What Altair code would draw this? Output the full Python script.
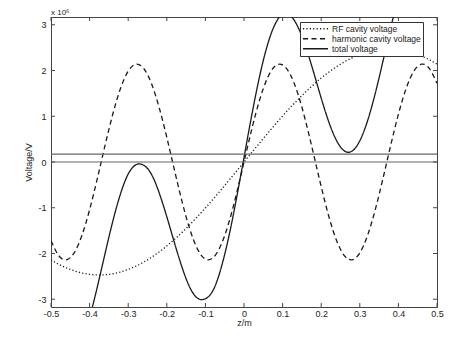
import altair as alt
import pandas as pd

z = [-0.50, -0.48, -0.46, -0.44, -0.42, -0.40, -0.38, -0.36, -0.34, -0.32,
     -0.30, -0.28, -0.26, -0.24, -0.22, -0.20, -0.18, -0.16, -0.14, -0.12,
     -0.10, -0.08, -0.06, -0.04, -0.02, 0.00, 0.02, 0.04, 0.06, 0.08,
     0.10, 0.12, 0.14, 0.16, 0.18, 0.20, 0.22, 0.24, 0.26, 0.28,
     0.30, 0.32, 0.34, 0.36, 0.38, 0.40, 0.42, 0.44, 0.46, 0.48, 0.50]

rf = [-2.139, -2.235, -2.315, -2.379, -2.426, -2.456, -2.469, -2.465, -2.443, -2.405,
      -2.349, -2.277, -2.189, -2.085, -1.967, -1.836, -1.691, -1.534, -1.367, -1.190,
      -1.005, -0.812, -0.614, -0.412, -0.207, 0.000, 0.207, 0.412, 0.614, 0.812,
      1.005, 1.190, 1.367, 1.534, 1.691, 1.836, 1.967, 2.085, 2.189, 2.277,
      2.349, 2.405, 2.443, 2.465, 2.469, 2.456, 2.426, 2.379, 2.315, 2.235, 2.139]

harm = [-1.720, -2.046, -2.138, -1.986, -1.607, -1.044, -0.362, 0.362, 1.044, 1.607,
        1.986, 2.138, 2.046, 1.720, 1.198, 0.539, -0.181, -0.881, -1.481, -1.911,
        -2.123, -2.092, -1.822, -1.345, -0.713, 0.000, 0.713, 1.345, 1.822, 2.092,
        2.123, 1.911, 1.481, 0.881, 0.181, -0.539, -1.198, -1.720, -2.046, -2.138,
        -1.986, -1.607, -1.044, -0.362, 0.362, 1.044, 1.607, 1.986, 2.138, 2.046, 1.720]

total = [-3.759, -4.181, -4.353, -4.265, -3.933, -3.400, -2.731, -2.003, -1.299, -0.698,
         -0.263, -0.060, -0.070, -0.265, -0.669, -1.197, -1.772, -2.315, -2.748, -2.980,
         -2.990, -2.804, -2.336, -1.657, -0.820, 0.100, 1.020, 1.857, 2.536, 3.004,
         3.228, 3.201, 2.948, 2.515, 1.972, 1.397, 0.869, 0.465, 0.243, 0.239,
         0.463, 0.898, 1.499, 2.203, 2.931, 3.600, 4.133, 4.465, 4.553, 4.381, 3.959]

series_names = ["RF cavity voltage", "harmonic cavity voltage", "total voltage"]
hlines = [0.0, 0.17]
x_ticks = [-0.5, -0.4, -0.3, -0.2, -0.1, 0, 0.1, 0.2, 0.3, 0.4, 0.5]
y_ticks = [-3, -2, -1, 0, 1, 2, 3]

rows = []
for name, vals in zip(series_names, [rf, harm, total]):
    for zi, v in zip(z, vals):
        rows.append({"z": zi, "V": v, "series": name})
df = pd.DataFrame(rows)

W, H = 386, 290
FONT = "Liberation Sans"
INK = "#1a1a1a"
xs = alt.Scale(domain=[-0.5, 0.5], nice=False, zero=False)
ys = alt.Scale(domain=[-3.17, 3.17], nice=False, zero=False)

x_axis = alt.Axis(
    title="z/m", values=x_ticks, tickSize=0, domain=False, grid=False,
    labelExpr="'' + datum.value", labelPadding=2, titlePadding=0,
    labelFlush=False, labelOverlap=False,
    labelFontSize=9, titleFontSize=9, titleFontWeight="normal",
    labelColor="#222", titleColor="#222")
y_axis = alt.Axis(
    title="Voltage/V", values=y_ticks, tickSize=0, domain=False, grid=False,
    labelExpr="'' + datum.value", labelPadding=5, titlePadding=4,
    labelFlush=False, labelOverlap=False,
    labelFontSize=9, titleFontSize=9, titleFontWeight="normal",
    labelColor="#222", titleColor="#222")

lines = alt.Chart(df).mark_line(clip=True, interpolate="natural", color=INK, strokeWidth=1.3).encode(
    x=alt.X("z:Q", scale=xs, axis=x_axis),
    y=alt.Y("V:Q", scale=ys, axis=y_axis),
    strokeDash=alt.StrokeDash("series:N", scale=alt.Scale(
        domain=series_names, range=[[1.2, 2.2], [5, 3.5], [1, 0]]),
        legend=alt.Legend(title=None, orient="none", legendX=249, legendY=5,
                          strokeColor="#333", fillColor="white", padding=2,
                          labelFontSize=8.5, labelFont=FONT, labelColor="#222",
                          symbolType="stroke", symbolSize=625, symbolStrokeWidth=1.3,
                          symbolStrokeColor=INK, labelOffset=3, clipHeight=9.5,
                          rowPadding=0)),
)

hl = alt.Chart(pd.DataFrame({"V": hlines})).mark_rule(color="#666", strokeWidth=1.2).encode(
    y=alt.Y("V:Q", scale=ys, axis=y_axis)
)

xt = pd.DataFrame({"z": x_ticks})
yt = pd.DataFrame({"V": y_ticks})
tick_bottom = alt.Chart(xt).mark_rule(color="#444").encode(
    x=alt.X("z:Q", scale=xs, axis=x_axis), y=alt.value(H), y2=alt.value(H - 4))
tick_top = alt.Chart(xt).mark_rule(color="#444").encode(
    x=alt.X("z:Q", scale=xs, axis=x_axis), y=alt.value(0), y2=alt.value(4))
tick_left = alt.Chart(yt).mark_rule(color="#444").encode(
    y=alt.Y("V:Q", scale=ys, axis=y_axis), x=alt.value(0), x2=alt.value(4))
tick_right = alt.Chart(yt).mark_rule(color="#444").encode(
    y=alt.Y("V:Q", scale=ys, axis=y_axis), x=alt.value(W), x2=alt.value(W - 4))

chart = alt.layer(lines, hl, tick_bottom, tick_top, tick_left, tick_right).properties(
    width=W, height=H,
    title=alt.Title("x 10⁶", anchor="start", frame="group", fontSize=8,
                    fontWeight="normal", font=FONT, color="#222", offset=0),
    padding={"left": 43, "top": 9, "right": 20, "bottom": 25},
    autosize=alt.AutoSizeParams(type="none"),
).configure(font=FONT, background="white").configure_view(
    stroke="#444", strokeWidth=1
)

chart.save("out.html", embed_options={"renderer": "svg", "actions": False})
